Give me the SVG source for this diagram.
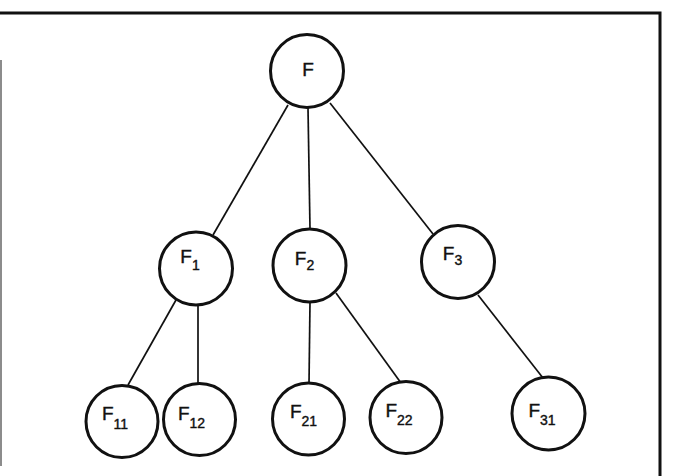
<svg xmlns="http://www.w3.org/2000/svg" width="680" height="476" viewBox="0 0 680 476">
<style>
.node{fill:#fff;stroke:#111;stroke-width:3}
.edge{stroke:#111;stroke-width:1.7;fill:none}
.frame{stroke:#111;stroke-width:3;fill:none}
.lbl{font-family:"Liberation Sans","DejaVu Sans",sans-serif;font-size:19px;fill:#111;stroke:#111;stroke-width:0.4;text-anchor:middle}
.sub{font-size:14px}
</style>
<rect width="680" height="476" fill="#fff"/>
<g id="frame">
<polyline class="frame" points="0,13 660,13 660,476"/>
<line x1="1" y1="60" x2="1" y2="466" stroke="#666" stroke-width="1.5"/>
</g>
<g id="connectors">
<line class="edge" x1="288" y1="105" x2="213" y2="235"/>
<line class="edge" x1="308" y1="108" x2="310" y2="229"/>
<line class="edge" x1="330" y1="103" x2="433" y2="234"/>
<line class="edge" x1="176" y1="300" x2="128" y2="385"/>
<line class="edge" x1="198" y1="304" x2="198" y2="384"/>
<line class="edge" x1="310" y1="302" x2="309" y2="384"/>
<line class="edge" x1="336" y1="293" x2="401" y2="383"/>
<line class="edge" x1="478" y1="295" x2="543" y2="378"/>
</g>
<g id="node-F">
<circle class="node" cx="307" cy="71" r="36.5"/>
<text class="lbl" x="308" y="76">F</text>
</g>
<g id="node-F1">
<circle class="node" cx="196" cy="268.5" r="36.5"/>
<text class="lbl" x="190" y="263">F<tspan class="sub" dy="7">1</tspan></text>
</g>
<g id="node-F2">
<circle class="node" cx="309.5" cy="265.5" r="36.5"/>
<text class="lbl" x="304.5" y="265">F<tspan class="sub" dy="5">2</tspan></text>
</g>
<g id="node-F3">
<circle class="node" cx="458" cy="262" r="36.5"/>
<text class="lbl" x="452.5" y="260">F<tspan class="sub" dy="5">3</tspan></text>
</g>
<g id="node-F11">
<circle class="node" cx="122" cy="421.5" r="36"/>
<text class="lbl" x="115" y="420">F<tspan class="sub" dy="9">11</tspan></text>
</g>
<g id="node-F12">
<circle class="node" cx="199.5" cy="419.5" r="36"/>
<text class="lbl" x="191.5" y="420">F<tspan class="sub" dy="8">12</tspan></text>
</g>
<g id="node-F21">
<circle class="node" cx="308.5" cy="419" r="36"/>
<text class="lbl" x="303.5" y="418">F<tspan class="sub" dy="8">21</tspan></text>
</g>
<g id="node-F22">
<circle class="node" cx="406" cy="417.5" r="36"/>
<text class="lbl" x="399" y="417">F<tspan class="sub" dy="8">22</tspan></text>
</g>
<g id="node-F31">
<circle class="node" cx="548.5" cy="413.5" r="36.5"/>
<text class="lbl" x="542" y="417">F<tspan class="sub" dy="8">31</tspan></text>
</g>
</svg>
